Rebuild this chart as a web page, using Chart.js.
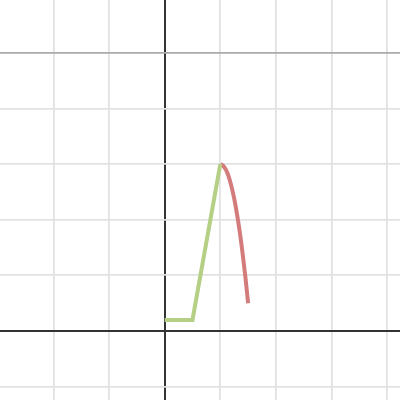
<!DOCTYPE html>
<html>
<head>
<meta charset="utf-8">
<script src="https://cdn.jsdelivr.net/npm/chart.js@4"></script>
<style>
  html, body { margin: 0; padding: 0; background: #fff; }
  #wrap { width: 400px; height: 400px; }
</style>
</head>
<body>
<div id="wrap"><canvas id="chart"></canvas></div>
<script>
// piecewise green segment
const greenX = [0, 0.5, 1];
const greenY = [0.2, 0.2, 3];

// red falling curve
const redX = [1, 1.05, 1.1, 1.15, 1.2, 1.25, 1.3, 1.35, 1.4, 1.45, 1.5];
const redY = [3, 2.97, 2.9, 2.78, 2.6, 2.38, 2.1, 1.78, 1.4, 0.98, 0.5];

// visible window of the graph paper
const xRange = [-2.96, 4.23];
const yRange = [-1.24, 5.95];

const ctx = document.getElementById("chart");

function gridColor(c) {
  const v = c.tick.value;
  if (v === 0) return '#333333';
  if (v % 5 === 0) return '#aaaaaa';
  return '#e2e2e2';
}

function gridWidth(c) {
  return c.tick.value === 0 ? 2 : 1.8;
}

const toPoints = (xs, ys) => xs.map((x, i) => ({x: x, y: ys[i]}));

const axis = (range) => ({
  type: 'linear',
  min: range[0],
  max: range[1],
  ticks: { display: false, stepSize: 1, includeBounds: false },
  grid: { color: gridColor, lineWidth: gridWidth, drawTicks: false },
  border: { display: false }
});

new Chart(ctx, {
  type: 'scatter',
  data: {
    datasets: [
      {
        data: toPoints(greenX, greenY),
        showLine: true,
        borderColor: '#b5cf85',
        borderWidth: 4,
        pointRadius: 0,
        tension: 0
      },
      {
        data: toPoints(redX, redY),
        showLine: true,
        borderColor: '#d47c7c',
        borderWidth: 4,
        pointRadius: 0,
        cubicInterpolationMode: 'monotone'
      }
    ]
  },
  options: {
    responsive: true,
    maintainAspectRatio: false,
    animation: false,
    layout: { padding: 0 },
    plugins: {
      legend: { display: false },
      tooltip: { enabled: false }
    },
    scales: {
      x: axis(xRange),
      y: axis(yRange)
    }
  }
});
</script>
</body>
</html>
